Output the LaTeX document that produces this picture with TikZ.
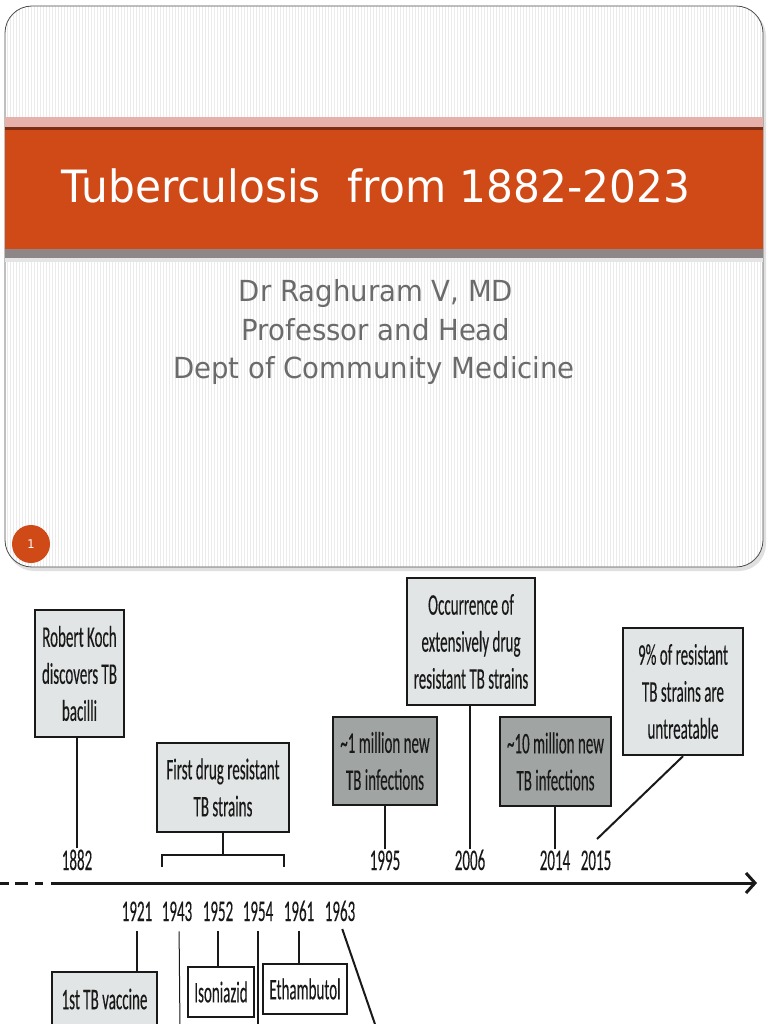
\documentclass[tikz,border=0pt]{standalone}
\usepackage{fontspec}
\setmainfont{DejaVu Sans}
\newfontfamily\slidefont[FakeStretch=0.95]{DejaVu Sans}
\newfontfamily\tlfont[FakeStretch=0.5, FakeBold=0.2]{Carlito}
\usetikzlibrary{arrows.meta}
\definecolor{tborange}{HTML}{D04A17}
\definecolor{tbpink}{HTML}{E6B1AB}
\definecolor{tbrust}{HTML}{7B2C12}
\definecolor{tbshadow}{HTML}{8F8787}
\definecolor{subgray}{HTML}{6B6B6B}
\definecolor{boxlight}{HTML}{E2E5E5}
\definecolor{boxdark}{HTML}{A0A5A3}

\begin{document}
\begin{tikzpicture}[
    x=1pt,
    y=-1pt,
    tlbox/.style={
        draw=black!90,
        line width=2.4pt,
        fill=boxlight,
        align=center,
        inner sep=0pt,
        text=black!90,
        font=\tlfont\fontsize{30}{37}\selectfont
    },
    darkbox/.style={
        tlbox,
        fill=boxdark
    },
    plainbox/.style={
        tlbox,
        fill=white,
        line width=2pt
    },
    yr/.style={
        anchor=base,
        inner sep=1pt,
        text=black!90,
        font=\tlfont\fontsize{30}{32}\selectfont
    },
    stem/.style={
        line width=2pt,
        black!90
    },
    subline/.style={
        anchor=base,
        text=subgray,
        font=\slidefont\fontsize{29}{39}\selectfont
    }
]

    \useasboundingbox (0,0) rectangle (768,1024);
    \clip (0,0) rectangle (768,1024);

    % Diapositiva
    \fill[black!12, rounded corners=27pt] (7,9) rectangle (766,571);
    \fill[white, rounded corners=27pt] (5,6) rectangle (763,567);
    \begin{scope}
        \clip[rounded corners=27pt] (5,6) rectangle (763,567);
        \foreach \x in {7,10,...,763}
            \draw[black!8, line width=0.6pt] (\x,6) -- (\x,567);
    \end{scope}
    \draw[black!70, line width=0.8pt, rounded corners=27pt] (5,6) rectangle (763,567);

    % Franja del titol
    \fill[black!10] (5,258) rectangle (763,262);
    \fill[tbshadow] (5,249) rectangle (763,258);
    \fill[tbpink] (5,117) rectangle (763,127);
    \fill[tbrust] (5,127) rectangle (763,131);
    \fill[tborange] (5,130) rectangle (763,249);

    \node[anchor=base, text=white, font=\slidefont\fontsize{44.5}{50}\selectfont]
        (title) at (376,203) {Tuberculosis\ \ from 1882-2023};

    % Autor
    \node[subline] (author) at (376,301) {Dr Raghuram V, MD};
    \node[subline] (role) at (376,340) {Professor and Head};
    \node[subline] (dept) at (374,378) {Dept of Community Medicine};

    % Numero
    \node[circle, fill=tborange, minimum size=38pt, inner sep=0pt, text=white,
        font=\slidefont\fontsize{12}{12}\selectfont] (pagenum) at (31,544) {1};

    % Eix temporal
    \coordinate (axstart) at (51,883);
    \coordinate (axend) at (757,883);
    \coordinate (axfar) at (0,883);
    \draw[line width=3pt, black!90,
        -{Straight Barb[length=9pt, width=20pt, line width=3pt]}] (axstart) -- (axend);
    \draw[line width=3pt, black!90,
        dash pattern=on 9pt off 6pt on 13pt off 7pt on 8pt off 8pt] (axfar) -- (axstart);

    % Anys de dalt
    \node[yr] (y1882) at (77,870) {1882};
    \node[yr] (y1995) at (385,870) {1995};
    \node[yr] (y2006) at (470,870) {2006};
    \node[yr] (y2014) at (555,870) {2014};
    \node[yr] (y2015) at (596,870) {2015};

    % Caixes de dalt
    \node[tlbox, minimum width=89pt, minimum height=127pt]
        (koch) at (79.5,673.5) {Robert Koch\\discovers TB\\bacilli};
    \node[tlbox, minimum width=132pt, minimum height=89pt]
        (firstres) at (223,787.5) {First drug resistant\\TB strains};
    \node[darkbox, minimum width=104pt, minimum height=88pt]
        (mill1) at (385,761) {\char`~1 million new\\TB infections};
    \node[tlbox, minimum width=128pt, minimum height=127pt]
        (occur) at (471,641.5) {Occurrence of\\extensively drug\\resistant TB strains};
    \node[darkbox, minimum width=111pt, minimum height=89pt]
        (mill10) at (555.5,761.5) {\char`~10 million new\\TB infections};
    \node[tlbox, minimum width=120pt, minimum height=127pt]
        (untreat) at (683,691.5) {9\% of resistant\\TB strains are\\untreatable};

    % Connectors de dalt
    \draw[stem] (y1882.north) -- (y1882.north |- koch.south);
    \draw[stem] (y1995.north) -- (y1995.north |- mill1.south);
    \draw[stem] (y2006.north) -- (y2006.north |- occur.south);
    \draw[stem] (y2014.north) -- (y2014.north |- mill10.south);
    \coordinate (tip2015) at (597,839);
    \draw[stem] (untreat.south) -- (tip2015);

    % Clau 1921-1961
    \coordinate (brL) at (162,867);
    \coordinate (brR) at (284,867);
    \coordinate (brmid) at (222,855);
    \draw[stem, line width=1.4pt] (brL) -- ++(0,-12) -| (brR);
    \draw[stem] (firstres.south) -- (firstres.south |- brmid);

    % Anys de baix
    \node[yr] (y1921) at (137,921) {1921};
    \node[yr] (y1943) at (177,921) {1943};
    \node[yr] (y1952) at (218,921) {1952};
    \node[yr] (y1954) at (258,921) {1954};
    \node[yr] (y1961) at (299,921) {1961};
    \node[yr] (y1963) at (340,921) {1963};

    % Caixes de baix
    \node[tlbox, minimum width=105pt, minimum height=54pt]
        (vaccine) at (104.5,999) {1st TB vaccine};
    \node[plainbox, minimum width=66pt, minimum height=50pt]
        (isoniazid) at (221,992) {Isoniazid};
    \node[plainbox, minimum width=84pt, minimum height=50pt]
        (etham) at (305,989) {Ethambutol};

    % Connectors de baix
    \draw[stem, shorten <=9pt] (y1921.south) -- (y1921.south |- vaccine.north);
    \draw[stem, shorten <=9pt] (y1952.south) -- (y1952.south |- isoniazid.north);
    \draw[stem, shorten <=9pt] (y1961.south) -- (y1961.south |- etham.north);
    \coordinate (end1943) at (180,1030);
    \coordinate (end1954) at (258,1030);
    \coordinate (end1963) at (377,1030);
    \draw[stem, line width=1pt, shorten <=9pt] ([xshift=2pt]y1943.south) -- (end1943);
    \draw[stem, line width=2.4pt, shorten <=9pt] (y1954.south) -- (end1954);
    \draw[stem, shorten <=7pt] (y1963.south) -- (end1963);

\end{tikzpicture}
\end{document}
